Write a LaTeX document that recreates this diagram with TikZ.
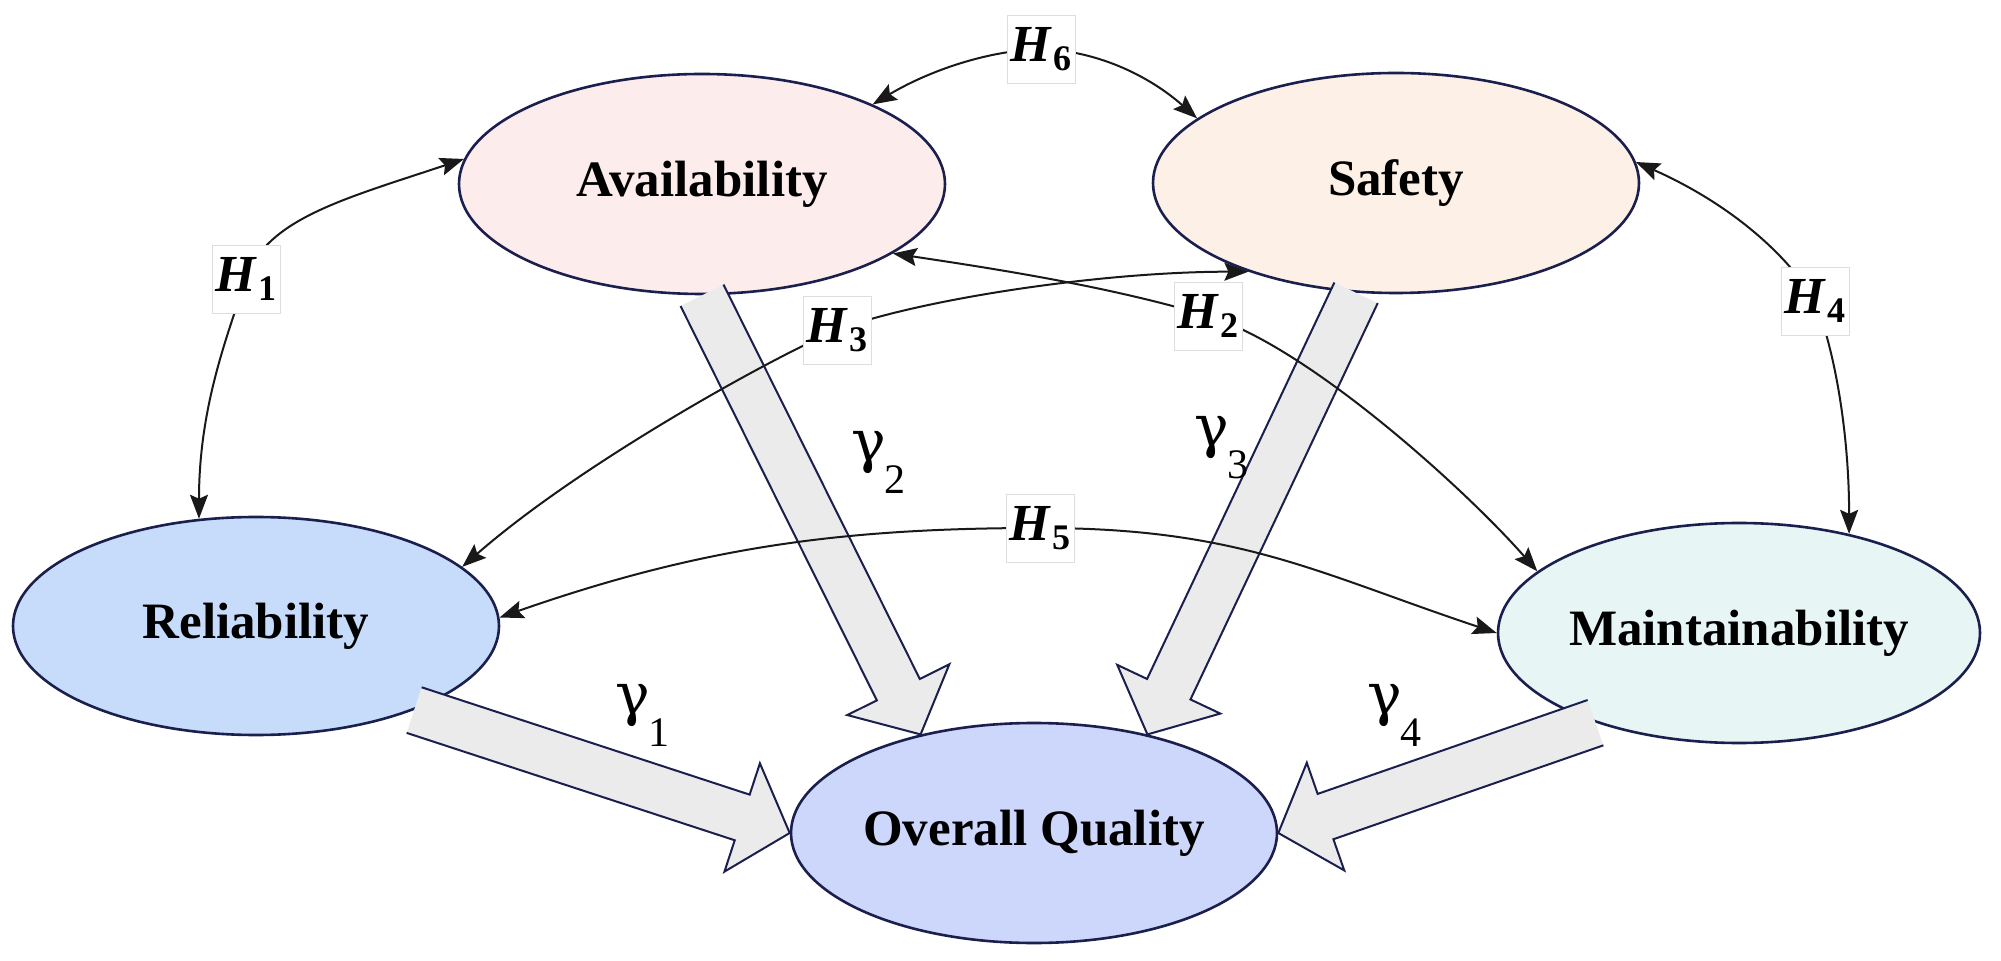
\documentclass[tikz,border=0pt]{standalone}
\usepackage{fontspec}
\setmainfont{Liberation Serif}
\newfontfamily\djv{DejaVu Serif}
\usetikzlibrary{calc,shapes.geometric,arrows.meta}
\definecolor{navy}{HTML}{1A1F4E}
\definecolor{avfill}{HTML}{FDECEC}
\definecolor{safill}{HTML}{FDF0E6}
\definecolor{refill}{HTML}{C6DCFA}
\definecolor{mafill}{HTML}{E7F6F4}
\definecolor{oqfill}{HTML}{CDD6FB}
\definecolor{bgray}{HTML}{EBEBEB}
\definecolor{boxgray}{HTML}{DDDDDD}
\newcommand{\hlab}[1]{\fontsize{26}{30}\selectfont\textbf{\textit{H}}\kern0.3pt\raisebox{-4.5pt}{\fontsize{18}{20}\selectfont\bfseries #1}}
\newcommand{\glab}[1]{\fontsize{29}{32}\selectfont{\djv γ}\kern-1pt\raisebox{-16pt}{\fontsize{21}{24}\selectfont #1}}
\newcommand{\bigarrow}[2]{%
  \coordinate (ba-h) at ($(#2)!25pt!(#1)$);
  \coordinate (ba-t1) at ($(#1)!12pt!90:(#2)$);
  \coordinate (ba-t2) at ($(#1)!12pt!-90:(#2)$);
  \coordinate (ba-s1) at ($(ba-h)!12pt!90:(#2)$);
  \coordinate (ba-s2) at ($(ba-h)!12pt!-90:(#2)$);
  \coordinate (ba-w1) at ($(ba-h)!28.5pt!90:(#2)$);
  \coordinate (ba-w2) at ($(ba-h)!28.5pt!-90:(#2)$);
  \fill[bgray] (ba-t1) -- (ba-s1) -- (ba-w1) -- (#2) -- (ba-w2) -- (ba-s2) -- (ba-t2) -- cycle;
  \draw[blockline] (ba-t1) -- (ba-s1) -- (ba-w1) -- (#2) -- (ba-w2) -- (ba-s2) -- (ba-t2);
}
\tikzset{
  ell/.style={ellipse, draw=navy, line width=1.3pt, minimum width=243pt, minimum height=110pt,
    inner sep=0pt, font=\fontsize{25.5}{30}\selectfont\bfseries},
  hbox/.style={fill=white, draw=boxgray, line width=0.4pt, minimum width=34pt, minimum height=34pt, inner sep=1pt},
  conn/.style={line width=1pt, draw=black!90,
    {Stealth[length=12pt,width=9pt,inset=2pt]}-{Stealth[length=12pt,width=9pt,inset=2pt]}},
  blockline/.style={draw=navy, line width=1pt, line join=miter},
  glabel/.style={inner sep=0pt, anchor=base west},
}
\begin{document}
\begin{tikzpicture}[x=0.5pt,y=-0.5pt]
\useasboundingbox (0,0) rectangle (2001,961);
% ellipses
\node[ell, fill=avfill] (Av) at (702,184) {\makebox[0pt]{Availability}};
\node[ell, fill=safill] (Sa) at (1396,183) {\makebox[0pt]{Safety}};
\node[ell, fill=refill, minimum height=109pt] (Re) at (256,626) {\makebox[0pt]{Reliability}};
\node[ell, fill=mafill, minimum width=241pt] (Ma) at (1739,633) {\makebox[0pt]{Maintainability}};
\node[ell, fill=oqfill] (OQ) at (1034,833) {\makebox[0pt]{Overall Quality}};
% block arrows
\bigarrow{Re.-28.5}{OQ.west}
\bigarrow{Av.south}{OQ.139}
\bigarrow{Sa.250}{OQ.41}
\bigarrow{Ma.212}{OQ.east}
% label positions
\coordinate (h1) at (246,279);
\coordinate (h2) at (1208,316);
\coordinate (h3) at (837,330);
\coordinate (h4) at (1815,301);
\coordinate (h5) at (1040,528);
\coordinate (h6) at (1041,49);
% connectors
\draw[conn] (Av.174) .. controls +(-120,40) and +(20,-60) .. (h1) .. controls +(-20,60) and +(0,-110) .. (Re.118);
\draw[conn] (Av.-20) .. controls +(100,15) and +(-100,-30) .. (h2) .. controls +(100,30) and +(-70,-80) .. (Ma.163);
\draw[conn] (Sa.211) .. controls +(-150,0) and +(80,-30) .. (h3) .. controls +(-60,25) and +(120,-105) .. (Re.16);
\draw[conn] (Sa.5) .. controls +(90,40) and +(-30,-50) .. (h4) .. controls +(20,50) and +(0,-100) .. (Ma.42);
\draw[conn] (Re.2) .. controls +(200,-70) and +(-200,0) .. (h5) .. controls +(200,0) and +(-180,-60) .. (Ma.180);
\draw[conn] (Av.25) .. controls +(50,-30) and +(-60,2) .. (h6) .. controls +(60,2) and +(-45,-40) .. (Sa.162);
% labels
\node[hbox] (H1) at (h1) {\hlab{1}};
\node[hbox] (H2) at (h2) {\hlab{2}};
\node[hbox] (H3) at (h3) {\hlab{3}};
\node[hbox] (H4) at (h4) {\hlab{4}};
\node[hbox] (H5) at (h5) {\hlab{5}};
\node[hbox] (H6) at (h6) {\hlab{6}};
\node[glabel] (g1) at (615,714) {\glab{1}};
\node[glabel] (g2) at (851,462) {\glab{2}};
\node[glabel] (g3) at (1194,447) {\glab{3}};
\node[glabel] (g4) at (1367,714) {\glab{4}};
\end{tikzpicture}
\end{document}
